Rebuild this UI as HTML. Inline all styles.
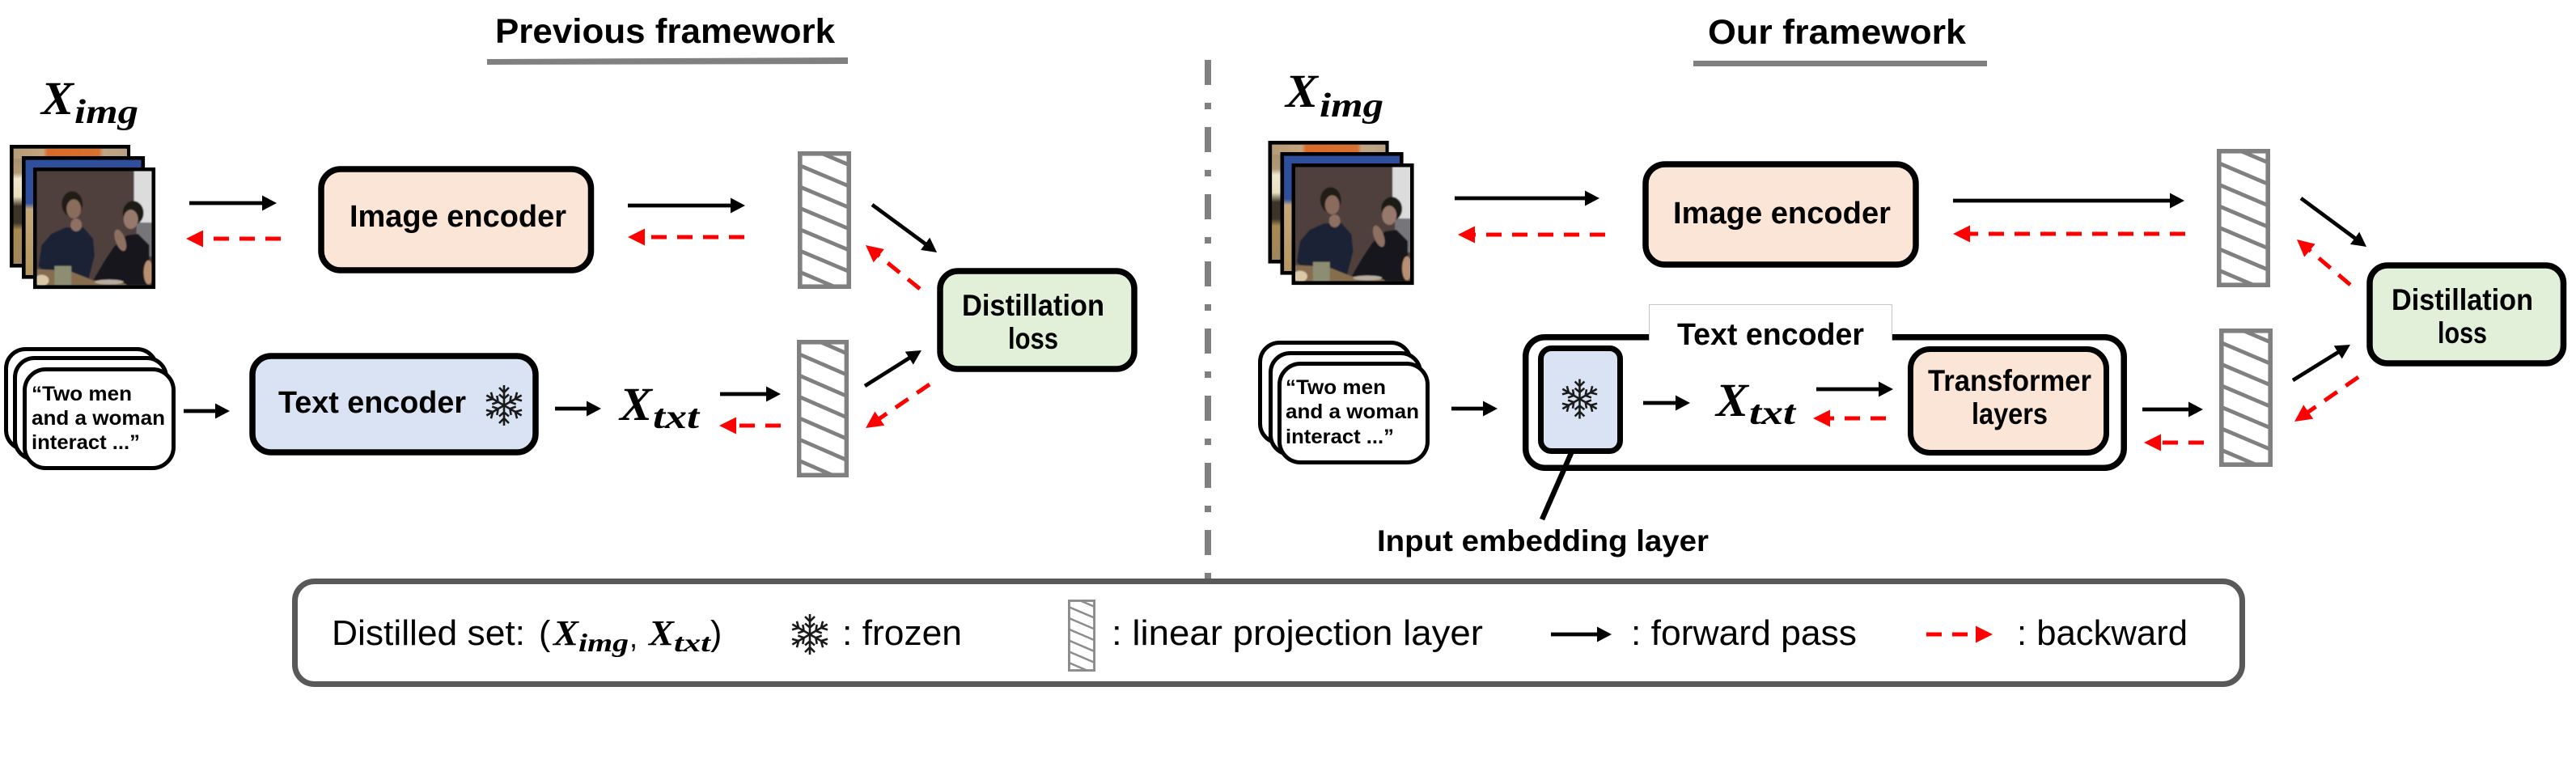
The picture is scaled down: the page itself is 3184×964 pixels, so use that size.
<!DOCTYPE html>
<html><head><meta charset="utf-8"><title>Previous framework vs Our framework</title>
<style>
html,body{margin:0;padding:0;background:#fff}
svg{display:block}
text{font-family:"Liberation Sans",sans-serif;fill:#000}
.b{font-weight:bold}
.m{font-family:"Liberation Serif",serif;font-weight:bold;font-style:italic}
.r{font-size:44px}
.k{stroke:#000;stroke-width:4.700}
.d{stroke:#f00;stroke-width:5;stroke-dasharray:19 13}
</style></head><body>
<svg width="3184" height="964" viewBox="0 0 3184 964" xmlns="http://www.w3.org/2000/svg">
<defs>
<marker id="ak" markerUnits="userSpaceOnUse" markerWidth="20" markerHeight="22" refX="10" refY="11" orient="auto"><path d="M0,1.500 L18,11 L0,20.500 Z" fill="#000"/></marker>
<marker id="ar" markerUnits="userSpaceOnUse" markerWidth="22" markerHeight="22" refX="13" refY="11" orient="auto"><path d="M0,0.500 L21,11 L0,21.500 Z" fill="#f00"/></marker>
<clipPath id="hc"><rect x="0" y="0" width="66" height="171"/></clipPath>
<symbol id="hatch" viewBox="0 0 66 171" preserveAspectRatio="none">
<g clip-path="url(#hc)" fill="none" stroke="currentColor">
<path stroke-width="4.800" d="M0,-10 L66,18 M0,16.500 L66,44.500 M0,43 L66,71 M0,69.500 L66,97.500 M0,96 L66,124 M0,122.500 L66,150.500 M0,149 L66,177"/>
<rect stroke-width="5.600" x="2.800" y="2.800" width="60.400" height="165.400"/>
</g></symbol>
<symbol id="flake" viewBox="-23 -25 46 50" overflow="visible">
<g fill="none" stroke="#1a1a1a" stroke-width="2.600">
<g id="arm"><path d="M0,0 V-25 M-6,-22 L0,-16 L6,-22 M-6,-13.500 L0,-8.500 L6,-13.500"/></g>
<use href="#arm" transform="rotate(60)"/><use href="#arm" transform="rotate(120)"/><use href="#arm" transform="rotate(180)"/><use href="#arm" transform="rotate(240)"/><use href="#arm" transform="rotate(300)"/>
</g></symbol>
<filter id="soft" x="-5%" y="-5%" width="110%" height="110%"><feGaussianBlur stdDeviation="0.800"/></filter>
<clipPath id="pc"><rect x="0" y="0" width="143" height="142"/></clipPath>
<symbol id="photo" viewBox="0 0 143 142" preserveAspectRatio="none">
<g clip-path="url(#pc)"><g filter="url(#soft)">
<rect x="-3" y="-3" width="150" height="150" fill="#4f3f3c"/>
<rect x="121" y="-2" width="26" height="66" fill="#dcdcdc"/>
<rect x="124" y="64" width="22" height="42" fill="#75757a"/>
<path d="M2,118 L6,92 L18,78 L36,70 L58,70 L70,84 L72,105 L64,136 L50,132 L40,124 L10,126 Z" fill="#1a2136"/>
<path d="M70,136 L84,112 L96,94 L112,80 L126,78 L140,92 L140,142 L82,142 Z" fill="#18181a"/>
<ellipse cx="44" cy="41" rx="13" ry="16" fill="#241b14"/>
<ellipse cx="46" cy="47" rx="9" ry="12" fill="#8a6c5c"/>
<ellipse cx="49" cy="67" rx="7" ry="8" fill="#8e7064"/>
<ellipse cx="120" cy="52" rx="13" ry="15" fill="#1f1a18"/>
<ellipse cx="117" cy="60" rx="9" ry="12" fill="#96786c"/>
<ellipse cx="104" cy="86" rx="6" ry="14" fill="#8e7064" transform="rotate(-20 104 86)"/>
<path d="M0,122 L40,124 L70,136 L110,140 L112,142 L0,142 Z" fill="#866d4e"/>
<rect x="22" y="118" width="21" height="24" fill="#8c8d72"/>
<ellipse cx="6" cy="136" rx="9" ry="7" fill="#d9c9a8"/>
<ellipse cx="139" cy="126" rx="6" ry="15" fill="#b88f70"/>
<ellipse cx="90" cy="138" rx="18" ry="3" fill="#b8ada0"/>
</g></g></symbol>
<linearGradient id="sep" x1="0" y1="0" x2="1" y2="0"><stop offset="0" stop-color="#b59b78"/><stop offset=".26" stop-color="#c5a57c"/><stop offset=".3" stop-color="#d96a2a"/><stop offset=".75" stop-color="#d9702e"/><stop offset=".79" stop-color="#bfa684"/><stop offset="1" stop-color="#b8a184"/></linearGradient>
<linearGradient id="sl" x1="0" y1="0" x2="0" y2="1"><stop offset="0" stop-color="#a08a68"/><stop offset=".22" stop-color="#b09a78"/><stop offset=".27" stop-color="#eee8d0"/><stop offset=".42" stop-color="#e8dfc0"/><stop offset=".5" stop-color="#3d3428"/><stop offset=".64" stop-color="#3d3428"/><stop offset=".7" stop-color="#a78a50"/><stop offset="1" stop-color="#a08660"/></linearGradient>
<linearGradient id="sm" x1="0" y1="0" x2="0" y2="1"><stop offset="0" stop-color="#2f4f9c"/><stop offset=".38" stop-color="#2f4f9c"/><stop offset=".43" stop-color="#c6a77a"/><stop offset="1" stop-color="#b6965f"/></linearGradient>
<symbol id="stack" viewBox="0 0 180 178" overflow="visible">
<rect x="2.300" y="2.300" width="144.500" height="147" fill="url(#sl)" stroke="#000" stroke-width="4.600"/>
<rect x="5" y="5" width="140" height="12" fill="url(#sep)"/>
<rect x="17.300" y="16.300" width="147.500" height="147" fill="url(#sm)" stroke="#000" stroke-width="4.600"/>
<rect x="31.300" y="30.300" width="146.500" height="145.500" fill="#4f3f3c" stroke="#000" stroke-width="4.600"/>
<use href="#photo" x="33.500" y="32.500" width="142" height="141"/>
</symbol>
</defs>

<!-- LEFT PANEL -->
<text class="b" x="612" y="53" font-size="43" textLength="420" lengthAdjust="spacingAndGlyphs">Previous framework</text>
<path d="M602,73 L1048,71 V79 L602,80 Z" fill="#808080"/>
<text class="m" x="51" y="141" font-size="58" textLength="40" lengthAdjust="spacingAndGlyphs">X</text>
<text class="m" x="92" y="152" font-size="42" textLength="79" lengthAdjust="spacingAndGlyphs">img</text>
<use href="#stack" x="12" y="179" width="180" height="178"/>
<line class="k" x1="234" y1="251" x2="334" y2="251" marker-end="url(#ak)"/>
<line class="d" x1="347" y1="295" x2="238" y2="295" marker-end="url(#ar)"/>
<rect x="397" y="209" width="333.500" height="125" rx="24" fill="#fbe5d6" stroke="#000" stroke-width="7.500"/>
<text class="b" x="432" y="280" font-size="38" textLength="268" lengthAdjust="spacingAndGlyphs">Image encoder</text>
<line class="k" x1="776" y1="254" x2="913" y2="254" marker-end="url(#ak)"/>
<line class="d" x1="920" y1="293" x2="784" y2="293" marker-end="url(#ar)"/>
<use href="#hatch" x="986" y="187" width="66" height="170" color="#808080"/>
<use href="#hatch" x="985" y="420" width="64" height="170" color="#808080"/>
<line class="k" x1="1078" y1="253" x2="1151.600" y2="307.200" marker-end="url(#ak)"/>
<line class="d" x1="1137" y1="357" x2="1076.200" y2="308" marker-end="url(#ar)"/>
<line class="k" x1="1069" y1="477" x2="1132.200" y2="437.300" marker-end="url(#ak)"/>
<line class="d" x1="1149" y1="475" x2="1076.600" y2="524.500" marker-end="url(#ar)"/>
<rect x="1162" y="335" width="240" height="121" rx="22" fill="#e2f0d9" stroke="#000" stroke-width="7.500"/>
<text class="b" x="1189" y="390" font-size="37" textLength="176" lengthAdjust="spacingAndGlyphs">Distillation</text>
<text class="b" x="1246" y="431" font-size="37" textLength="62" lengthAdjust="spacingAndGlyphs">loss</text>

<!-- Left text stack -->
<g fill="#fff" stroke="#000" stroke-width="5">
<rect x="7.500" y="431.500" width="186" height="124" rx="24"/>
<rect x="18.500" y="442.500" width="187" height="125" rx="24"/>
<rect x="30.500" y="456.500" width="184" height="122" rx="26"/>
</g>
<text class="b" x="39" y="495" font-size="25" textLength="124" lengthAdjust="spacingAndGlyphs">“Two men</text>
<text class="b" x="39" y="525" font-size="25" textLength="165" lengthAdjust="spacingAndGlyphs">and a woman</text>
<text class="b" x="39" y="555" font-size="25" textLength="134" lengthAdjust="spacingAndGlyphs">interact ...”</text>
<line class="k" x1="227" y1="508" x2="276" y2="508" marker-end="url(#ak)"/>
<rect x="312" y="440" width="350" height="119" rx="23" fill="#dae3f3" stroke="#000" stroke-width="7.500"/>
<text class="b" x="344" y="510" font-size="38" textLength="232" lengthAdjust="spacingAndGlyphs">Text encoder</text>
<use href="#flake" x="600" y="476" width="46" height="50"/>
<line class="k" x1="686" y1="505" x2="735" y2="505" marker-end="url(#ak)"/>
<text class="m" x="766" y="519" font-size="58" textLength="40" lengthAdjust="spacingAndGlyphs">X</text>
<text class="m" x="807" y="529" font-size="42" textLength="57" lengthAdjust="spacingAndGlyphs">txt</text>
<line class="k" x1="890" y1="487" x2="957" y2="487" marker-end="url(#ak)"/>
<line class="d" x1="965" y1="526" x2="897" y2="526" marker-end="url(#ar)"/>

<!-- DIVIDER -->
<line x1="1493" y1="74" x2="1493" y2="716" stroke="#808080" stroke-width="8" stroke-dasharray="31 22 8 22"/>

<!-- RIGHT PANEL -->
<text class="b" x="2111" y="54" font-size="43" textLength="319" lengthAdjust="spacingAndGlyphs">Our framework</text>
<rect x="2093" y="75" width="363" height="7" fill="#808080"/>
<text class="m" x="1589" y="132" font-size="58" textLength="40" lengthAdjust="spacingAndGlyphs">X</text>
<text class="m" x="1631" y="144" font-size="42" textLength="79" lengthAdjust="spacingAndGlyphs">img</text>
<use href="#stack" x="1567" y="174" width="181" height="178"/>
<line class="k" x1="1798" y1="245" x2="1969" y2="245" marker-end="url(#ak)"/>
<line class="d" x1="1984" y1="290" x2="1810" y2="290" marker-end="url(#ar)"/>
<rect x="2034" y="203" width="334" height="124" rx="24" fill="#fbe5d6" stroke="#000" stroke-width="7.500"/>
<text class="b" x="2068" y="276" font-size="38" textLength="269" lengthAdjust="spacingAndGlyphs">Image encoder</text>
<line class="k" x1="2414" y1="248" x2="2692" y2="248" marker-end="url(#ak)"/>
<line class="d" x1="2701" y1="289" x2="2422" y2="289" marker-end="url(#ar)"/>
<use href="#hatch" x="2740" y="184" width="66" height="171" color="#808080"/>
<use href="#hatch" x="2743" y="406" width="66" height="171" color="#808080"/>
<line class="k" x1="2844" y1="245" x2="2918.600" y2="300.200" marker-end="url(#ak)"/>
<line class="d" x1="2905" y1="352" x2="2845.100" y2="301.200" marker-end="url(#ar)"/>
<line class="k" x1="2834" y1="470" x2="2898.200" y2="430.200" marker-end="url(#ak)"/>
<line class="d" x1="2915" y1="466" x2="2842.600" y2="516.400" marker-end="url(#ar)"/>
<rect x="2929" y="328" width="239.500" height="121" rx="22" fill="#e2f0d9" stroke="#000" stroke-width="7.500"/>
<text class="b" x="2956" y="383" font-size="37" textLength="175" lengthAdjust="spacingAndGlyphs">Distillation</text>
<text class="b" x="3013" y="424" font-size="37" textLength="61" lengthAdjust="spacingAndGlyphs">loss</text>

<!-- Right text stack -->
<g fill="#fff" stroke="#000" stroke-width="5">
<rect x="1557.500" y="423.500" width="186" height="124" rx="24"/>
<rect x="1570.500" y="436.500" width="185" height="125" rx="24"/>
<rect x="1581.500" y="449.500" width="183" height="122" rx="26"/>
</g>
<text class="b" x="1589" y="487" font-size="25" textLength="124" lengthAdjust="spacingAndGlyphs">“Two men</text>
<text class="b" x="1589" y="517" font-size="25" textLength="165" lengthAdjust="spacingAndGlyphs">and a woman</text>
<text class="b" x="1589" y="548" font-size="25" textLength="134" lengthAdjust="spacingAndGlyphs">interact ...”</text>
<line class="k" x1="1794" y1="505" x2="1843" y2="505" marker-end="url(#ak)"/>

<!-- Text encoder group -->
<rect x="1885.700" y="416.700" width="739.500" height="161.500" rx="24" fill="#fff" stroke="#000" stroke-width="7.500"/>
<rect x="2038.500" y="376.500" width="300" height="50" fill="#fff" stroke="#c4c4c4" stroke-width="1"/>
<rect x="2038" y="421" width="301" height="8" fill="#fff"/>
<text class="b" x="2073" y="426" font-size="38" textLength="231" lengthAdjust="spacingAndGlyphs">Text encoder</text>
<rect x="1904.500" y="430.500" width="98" height="127" rx="13" fill="#dae3f3" stroke="#000" stroke-width="7"/>
<use href="#flake" x="1930" y="468" width="45" height="50"/>
<line class="k" x1="2031" y1="498" x2="2081" y2="498" marker-end="url(#ak)"/>
<text class="m" x="2121" y="514" font-size="58" textLength="40" lengthAdjust="spacingAndGlyphs">X</text>
<text class="m" x="2162" y="524" font-size="42" textLength="57" lengthAdjust="spacingAndGlyphs">txt</text>
<line class="k" x1="2245" y1="481" x2="2332" y2="481" marker-end="url(#ak)"/>
<line class="d" x1="2331" y1="517" x2="2249" y2="517" marker-end="url(#ar)"/>
<rect x="2361.500" y="431.500" width="242" height="128" rx="24" fill="#fbe5d6" stroke="#000" stroke-width="7"/>
<text class="b" x="2383" y="483" font-size="37" textLength="202" lengthAdjust="spacingAndGlyphs">Transformer</text>
<text class="b" x="2437" y="524" font-size="37" textLength="94" lengthAdjust="spacingAndGlyphs">layers</text>
<line class="k" x1="2648" y1="506" x2="2715" y2="506" marker-end="url(#ak)"/>
<line class="d" x1="2724" y1="547" x2="2658" y2="547" marker-end="url(#ar)"/>
<line x1="1942" y1="560" x2="1906" y2="642" stroke="#000" stroke-width="6.500"/>
<text class="b" x="1702" y="681" font-size="37" textLength="410" lengthAdjust="spacingAndGlyphs">Input embedding layer</text>

<!-- LEGEND -->
<rect x="364.500" y="718.500" width="2407" height="127" rx="24" fill="#fff" stroke="#595959" stroke-width="7"/>
<text class="r" x="410" y="797" textLength="239" lengthAdjust="spacingAndGlyphs">Distilled set:</text>
<text x="666" y="797" font-size="43" font-family="Liberation Serif">(</text>
<text class="m" x="684" y="797" font-size="44" textLength="31" lengthAdjust="spacingAndGlyphs">X</text>
<text class="m" x="715" y="805" font-size="32" textLength="62" lengthAdjust="spacingAndGlyphs">img</text>
<text x="778" y="800" font-size="36" font-family="Liberation Serif">,</text>
<text class="m" x="802" y="797" font-size="44" textLength="31" lengthAdjust="spacingAndGlyphs">X</text>
<text class="m" x="833" y="805" font-size="32" textLength="45" lengthAdjust="spacingAndGlyphs">txt</text>
<text x="878" y="797" font-size="43" font-family="Liberation Serif">)</text>
<use href="#flake" x="978" y="759" width="46" height="50"/>
<text class="r" x="1041" y="797" textLength="148" lengthAdjust="spacingAndGlyphs">: frozen</text>
<use href="#hatch" x="1320" y="741" width="34" height="89" color="#8c8c8c"/>
<text class="r" x="1374" y="797" textLength="459" lengthAdjust="spacingAndGlyphs">: linear projection layer</text>
<line class="k" x1="1917" y1="784" x2="1984" y2="784" marker-end="url(#ak)"/>
<text class="r" x="2016" y="797" textLength="279" lengthAdjust="spacingAndGlyphs">: forward pass</text>
<line class="d" x1="2381" y1="784" x2="2455" y2="784" marker-end="url(#ar)"/>
<text class="r" x="2493" y="797" textLength="211" lengthAdjust="spacingAndGlyphs">: backward</text>
</svg>
</body></html>
